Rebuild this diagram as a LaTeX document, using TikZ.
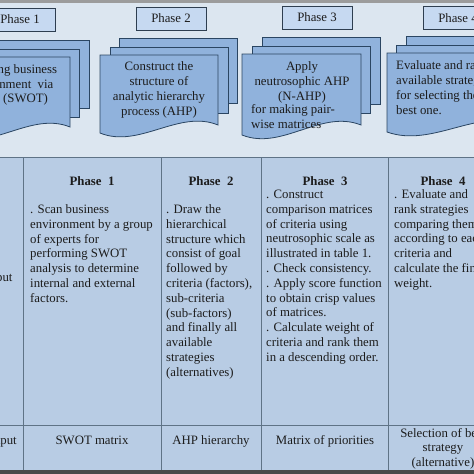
\documentclass[tikz,border=0pt]{standalone}
\usepackage{fontspec}
\setmainfont{Liberation Serif}
\definecolor{topbg}{HTML}{DCE6F0}
\definecolor{graytop}{HTML}{9C9C9C}
\definecolor{tabfill}{HTML}{B8CCE4}
\definecolor{botband}{HTML}{4A4A4A}
\definecolor{gridc}{HTML}{5F7386}
\definecolor{lblfill}{HTML}{C6D9F1}
\definecolor{lblborder}{HTML}{2E3E50}
\definecolor{docfill}{HTML}{90B2DC}
\definecolor{docborder}{HTML}{2A4562}
\definecolor{txt}{HTML}{1C1C1C}
\begin{document}
\begin{tikzpicture}[x=1pt,y=-1pt,
  every node/.style={text=txt, inner sep=0pt},
  f/.style={font=\fontsize{12.8}{14.8}\selectfont},
  hb/.style={font=\fontsize{12.8}{14.8}\selectfont\bfseries},
  lbl/.style={draw=lblborder, fill=lblfill, line width=0.8pt, minimum width=70, minimum height=23, f},
  pg/.style={draw=docborder, fill=docfill, line width=0.8pt},
  gridline/.style={draw=gridc, line width=0.9pt}]
\useasboundingbox (0,0) rectangle (474,474);
\clip (0,0) rectangle (474,474);
% backgrounds
\fill[topbg] (0,0) rectangle (474,157);
\fill[graytop] (0,0) rectangle (474,3);
\fill[tabfill] (0,157.5) rectangle (474,470);
\fill[botband] (0,470) rectangle (474,474);
% table grid
\draw[gridline] (0,157.5) -- (474,157.5);
\draw[gridline] (0,425) -- (474,425);
\foreach \xx in {23,161,261,388} \draw[gridline] (\xx,157.5) -- (\xx,470);
% phase labels
\node[lbl] (ph1) at (20,19.5) {Phase 1};
\node[lbl] (ph2) at (171,18.5) {Phase 2};
\node[lbl] (ph3) at (317,17.5) {Phase 3};
\node[lbl] (ph4) at (458,18) {Phase 4};
% document stacks
% Phase 1
\draw[pg] (-29,40) rectangle (89,108);
\draw[pg] (-39,49) rectangle (79,117);
\draw[pg] (-48,57) -- (70,57) -- (70,127) .. controls (31,111) and (-9,152) .. (-48,136) -- cycle;
% Phase 2
\draw[pg] (119,38) rectangle (237,103);
\draw[pg] (110,47) rectangle (228,113);
\draw[pg] (100,55) -- (218,55) -- (218,125) .. controls (179,109) and (139,149) .. (100,133) -- cycle;
% Phase 3
\draw[pg] (262,37) rectangle (380,104);
\draw[pg] (252,46) rectangle (370,113);
\draw[pg] (242,54) -- (361,54) -- (361,125) .. controls (321,109) and (282,151) .. (242,135) -- cycle;
% Phase 4
\draw[pg] (406,36) rectangle (541,103);
\draw[pg] (396,45) rectangle (531,112);
\draw[pg] (387,53) -- (522,53) -- (522,124) .. controls (477,108) and (432,148) .. (387,132) -- cycle;
% document texts
\node[f, align=center, anchor=north] (d1) at (10,63.1) {\strut Scanning business\\environment\ \ via};
\node[f, anchor=base west] (d1b) at (3,102.5) {(SWOT)};
\node[f, align=center, anchor=north] (d2) at (159,60.1) {\strut Construct the\\structure of\\analytic hierarchy\\process (AHP)};
\node[f, align=center, anchor=north] (d3) at (302,60.1) {\strut Apply\\neutrosophic AHP\\(N-AHP)};
\node[f, align=left, anchor=north west] (d3b) at (251,103.1) {\strut for making pair-\\wise matrices};
\node[f, align=left, anchor=north west] (d4) at (396,59.1) {\strut Evaluate and rank\\available strategies\\for selecting the\\best one.};
% table headers
\node[hb, anchor=base] (h1) at (92,185) {Phase\ \ 1};
\node[hb, anchor=base] (h2) at (211,185) {Phase\ \ 2};
\node[hb, anchor=base] (h3) at (325,185) {Phase\ \ 3};
\node[hb, anchor=base] (h4) at (443,185) {Phase\ \ 4};
% row labels
\node[f, anchor=base] (inp) at (-1,281) {Input};
\node[f, anchor=base] (outp) at (-1,444) {Output};
% table body
\node[f, align=left, anchor=north west] (c1) at (30,203) {\strut . Scan business\\environment by a group\\of experts for\\performing SWOT\\analysis to determine\\internal and external\\factors.};
\node[f, align=left, anchor=north west] (c2) at (166,203) {\strut . Draw the\\hierarchical\\structure which\\consist of goal\\followed by\\criteria (factors),\\sub-criteria\\(sub-factors)\\and finally all\\available\\strategies\\(alternatives)};
\node[f, align=left, anchor=north west] (c3) at (266,188) {\strut . Construct\\comparison matrices\\of criteria using\\neutrosophic scale as\\illustrated in table 1.\\. Check consistency.\\. Apply score function\\to obtain crisp values\\of matrices.\\. Calculate weight of\\criteria and rank them\\in a descending order.};
\node[f, align=left, anchor=north west] (c4) at (394,188) {\strut . Evaluate and\\rank strategies\\comparing them\\according to each\\criteria and\\calculate the final\\weight.};
% outputs
\node[f, anchor=base] (o1) at (92,444) {SWOT matrix};
\node[f, anchor=base] (o2) at (211,444) {AHP hierarchy};
\node[f, anchor=base] (o3) at (325,444) {Matrix of priorities};
\node[f, align=center, anchor=north] (o4) at (443,426.6) {\strut Selection of best\\strategy\\(alternative)};
\end{tikzpicture}
\end{document}
